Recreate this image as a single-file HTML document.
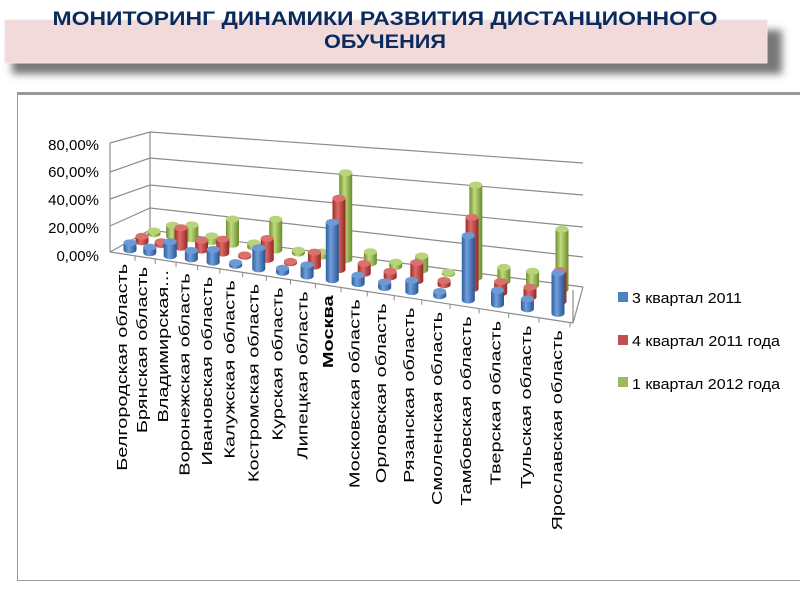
<!DOCTYPE html>
<html><head><meta charset="utf-8"><style>
html,body{margin:0;padding:0;background:#fff;width:800px;height:600px;overflow:hidden}
svg{display:block}
text{font-family:"Liberation Sans",sans-serif}
</style></head><body>
<svg id="s" width="800" height="600" viewBox="0 0 800 600" xmlns="http://www.w3.org/2000/svg">
<defs>
<filter id="sh" x="-5%" y="-30%" width="115%" height="180%"><feGaussianBlur stdDeviation="4"/></filter>
<linearGradient id="gb" x1="0" x2="1"><stop offset="0" stop-color="#2f5f9c"/><stop offset="0.4" stop-color="#6f9fdc"/><stop offset="1" stop-color="#2a5490"/></linearGradient>
<linearGradient id="gr" x1="0" x2="1"><stop offset="0" stop-color="#9a2e2b"/><stop offset="0.4" stop-color="#e06a66"/><stop offset="1" stop-color="#8f2a27"/></linearGradient>
<linearGradient id="gg" x1="0" x2="1"><stop offset="0" stop-color="#6f8f30"/><stop offset="0.4" stop-color="#c0dc7c"/><stop offset="1" stop-color="#6a8a2c"/></linearGradient>
</defs>
<rect x="12" y="30" width="770" height="44" fill="#777" filter="url(#sh)"/>
<rect x="5" y="20" width="762" height="43" fill="#f3dada" stroke="#e8e8e8"/>
<text x="385" y="25" font-size="19" font-weight="bold" fill="#0b2a5e" text-anchor="middle" textLength="665" lengthAdjust="spacingAndGlyphs">МОНИТОРИНГ ДИНАМИКИ РАЗВИТИЯ ДИСТАНЦИОННОГО</text>
<text x="385" y="48" font-size="19" font-weight="bold" fill="#0b2a5e" text-anchor="middle" textLength="122" lengthAdjust="spacingAndGlyphs">ОБУЧЕНИЯ</text>
<rect x="17.5" y="93.5" width="790" height="487" fill="#fff" stroke="#999" stroke-width="1"/>
<rect x="17" y="92" width="783" height="3" fill="#999"/>
<g id="grid" stroke="#8c8c8c" stroke-width="1.2" fill="none">
<polyline points="110,143 150,132 583,163"/>
<polyline points="110,172 150,158 583,195"/>
<polyline points="110,199 150,185 583,227"/>
<polyline points="110,226 150,208 583,257"/>
<polyline points="110,252 150,230 583,287"/>
<line x1="110" y1="143" x2="110" y2="252"/>
<line x1="150" y1="132" x2="150" y2="230"/>
<line x1="110" y1="252" x2="573" y2="323"/>
<line x1="573" y1="323" x2="583" y2="287"/>
<line x1="573" y1="290" x2="573" y2="323"/>
</g>
<g font-size="15" fill="#000" text-anchor="end">
<text x="99" y="150">80,00%</text>
<text x="99" y="177">60,00%</text>
<text x="99" y="205">40,00%</text>
<text x="99" y="233">20,00%</text>
<text x="99" y="261">0,00%</text>
</g>
<g id="bars"></g>
<g id="labels" font-size="15" fill="#000" text-anchor="end"></g>
<rect x="618" y="292" width="10" height="10" fill="#4f81bd"/>
<rect x="618" y="335" width="10" height="10" fill="#c0504d"/>
<rect x="618" y="377" width="10" height="10" fill="#9bbb59"/>
<g font-size="15" fill="#000">
<text x="632" y="303" textLength="110" lengthAdjust="spacingAndGlyphs">3 квартал 2011</text>
<text x="632" y="346" textLength="148" lengthAdjust="spacingAndGlyphs">4 квартал 2011 года</text>
<text x="632" y="389" textLength="148" lengthAdjust="spacingAndGlyphs">1 квартал 2012 года</text>
</g>
</svg>
<script>
var names=["Белгородская область","Брянская область","Владимирская...","Воронежская область","Ивановская область","Калужская область","Костромская область","Курская область","Липецкая область","Москва","Московская область","Орловская область","Рязанская область","Смоленская область","Тамбовская область","Тверская область","Тульская область","Ярославская область"];
var B=[5,4,10,6,9,2,15,3,8,41,6,4,8,3,46,10,7,29];
var R=[4,2,14,7,10,1,15,1,10,51,7,4,13,3,51,8,7,22];
var G=[2,8,10,4,18,3,22,2,3,62,8,3,10,1,66,10,10,43];
var NS="http://www.w3.org/2000/svg";
function el(t,a){var e=document.createElementNS(NS,t);for(var k in a)e.setAttribute(k,a[k]);return e;}
function X(i){return 122+19.85*i+0.3375*i*i;}
function AY(x){return 252+(x-110)*0.153;}
var bars=document.getElementById("bars"),labs=document.getElementById("labels");
var ser=[[B,"url(#gb)","#6d9ad4"],[R,"url(#gr)","#d9716d"],[G,"url(#gg)","#b8d47a"]];
for(var s=2;s>=0;s--)for(var i=0;i<18;i++){
 var sr=ser[s],x=X(i),u=i/17;
 var cx=x+(8-7*u)+s*(12-10*u);
 var by=AY(x)-(4+3*u)-s*(8+4*u);
 var h=sr[0][i]*1.4,w=13,r=3.5;
 bars.appendChild(el("ellipse",{cx:cx,cy:by,rx:w/2,ry:r,fill:sr[1]}));
 bars.appendChild(el("rect",{x:cx-w/2,y:by-h,width:w,height:h,fill:sr[1]}));
 bars.appendChild(el("ellipse",{cx:cx,cy:by-h,rx:w/2,ry:r,fill:sr[2]}));
}
names.forEach(function(n,i){
 var x=X(i),y=AY(x)+10;
 var t=el("text",{transform:"translate("+(x+5)+","+y+") rotate(-90)"});
 if(n==="Москва")t.setAttribute("font-weight","bold");
 t.textContent=n;labs.appendChild(t);
 var L=t.getComputedTextLength();
 t.setAttribute("textLength",L*1.33);t.setAttribute("lengthAdjust","spacingAndGlyphs");
 bars.appendChild(el("line",{x1:x+13,y1:AY(x+13),x2:x+13,y2:AY(x+13)+5,stroke:"#8c8c8c"}));
});
</script>
</body></html>
